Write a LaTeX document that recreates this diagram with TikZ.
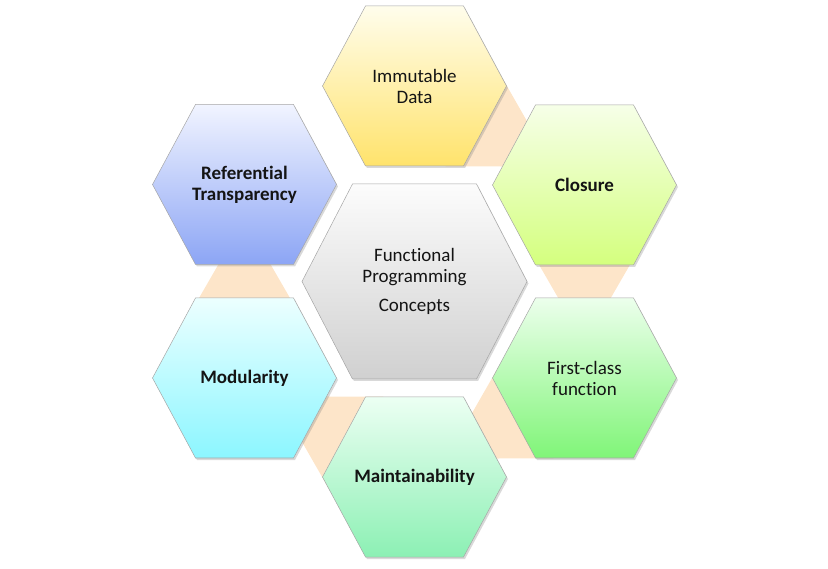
\documentclass[tikz,border=0pt]{standalone}
\usepackage{fontspec}
\setmainfont{Carlito}[Ligatures=NoCommon]
\usetikzlibrary{calc,shadows}
\pgfdeclarelayer{back}
\pgfsetlayers{back,main}
\definecolor{peach}{RGB}{253,229,201}
\definecolor{immtop}{RGB}{255,253,236}
\definecolor{immbot}{RGB}{255,227,108}
\definecolor{clotop}{RGB}{246,255,232}
\definecolor{clobot}{RGB}{212,255,126}
\definecolor{fcftop}{RGB}{236,255,236}
\definecolor{fcfbot}{RGB}{128,245,120}
\definecolor{maitop}{RGB}{236,255,243}
\definecolor{maibot}{RGB}{140,240,180}
\definecolor{modtop}{RGB}{236,255,255}
\definecolor{modbot}{RGB}{140,246,255}
\definecolor{reftop}{RGB}{241,244,255}
\definecolor{refbot}{RGB}{140,165,245}
\definecolor{ctrtop}{RGB}{252,252,252}
\definecolor{ctrbot}{RGB}{208,208,208}
\tikzset{
  pics/hexa/.style n args={5}{code={
    \path[top color=#4, bottom color=#5, draw=gray!70, line width=0.5pt,
      drop shadow={shadow xshift=1.5pt, shadow yshift=-2pt, opacity=0.3}]
      (-#1,0) -- (-#3,#2) -- (#3,#2) -- (#1,0) -- (#3,-#2) -- (-#3,-#2) -- cycle;
  }},
  lbl/.style={align=center, text=black!92, font=\fontsize{19}{21}\selectfont},
  link/.style={fill=peach}
}

\begin{document}
\begin{tikzpicture}[x=1pt,y=1pt]
            \useasboundingbox (0,0) rectangle (828,-569);
            % hexagons
            \pic at (414.5,-281.5) {hexa={112.5}{97.5}{62}{ctrtop}{ctrbot}};
            \pic at (414.5,-86) {hexa={92}{80}{49}{immtop}{immbot}};
            \pic at (584.5,-185) {hexa={92}{80}{49}{clotop}{clobot}};
            \pic at (584.5,-378) {hexa={92}{80}{49}{fcftop}{fcfbot}};
            \pic at (414.5,-477) {hexa={92}{80}{49}{maitop}{maibot}};
            \pic at (244.5,-378) {hexa={92}{80}{49}{modtop}{modbot}};
            \pic at (244.5,-184.5) {hexa={92}{80}{49}{reftop}{refbot}};

            \node[lbl] (ctr) at (414.5,-281.5) {Functional\\Programming\\[8pt]Concepts};
            \node[lbl] (imm) at (414.5,-86) {Immutable\\Data};
            \node[lbl] (clo) at (584.5,-185) {\textbf{Closure}};
            \node[lbl] (fcf) at (584.5,-378) {First-class\\function};
            \node[lbl] (mai) at (414.5,-477) {\textbf{Maintainability}};
            \node[lbl] (mod) at (244.5,-378) {\textbf{Modularity}};
            \node[lbl] (ref) at (244.5,-184.5) {\textbf{Referential}\\\textbf{Transparency}};

            % links behind the hexagons
            \begin{pgfonlayer}{back}
            \foreach \a/\b in {imm/clo,clo/fcf,fcf/mai,mai/mod,mod/ref}{
                \coordinate (m) at ($(\a.center)!0.5!(\b.center)$);
                \fill[link] ($(m)!62pt!(\b.center)$) -- ($(m)!62pt!120:(\b.center)$)
                    -- ($(m)!62pt!-120:(\b.center)$) -- cycle;
            }
            \end{pgfonlayer}
        \end{tikzpicture}
\end{document}
